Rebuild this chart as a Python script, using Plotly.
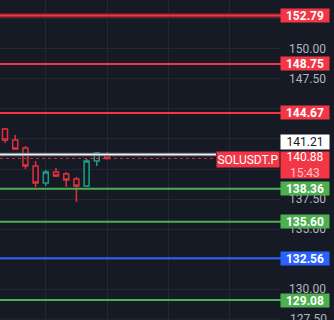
import plotly.graph_objects as go

# ---- data ----
idx = list(range(11))
opens = [143.33, 142.42, 141.75, 140.25, 138.83, 139.75, 139.58, 139.17, 138.58, 140.67, 141.21]
highs = [143.42, 142.83, 141.92, 140.67, 139.92, 140.08, 139.75, 139.33, 140.83, 141.42, 141.42]
lows = [142.17, 141.67, 140.00, 138.50, 138.58, 139.33, 138.50, 137.25, 138.50, 140.25, 140.80]
closes = [142.42, 141.67, 140.25, 138.83, 139.75, 139.42, 139.08, 138.58, 140.67, 141.33, 140.88]

level_values = [152.79, 148.75, 144.67, 138.36, 135.60, 132.56, 129.08]
level_colors = ["#f23645", "#f23645", "#f23645", "#4caf50", "#4caf50", "#2962ff", "#4caf50"]

tick_values = [130.0, 132.5, 135.0, 137.5, 140.0, 142.5, 145.0, 147.5, 150.0, 152.5]
tick_labels = ["130.00", "", "135.00", "137.50", "",
               "", "", "147.50", "150.00", ""]
edge_tick_value = 127.5
edge_tick_label = "127.50"

last_close = 140.88
ref_price = 141.21
symbol = "SOLUSDT.P"
countdown = "15:43"

BG = "#161a25"
GRID = "#242833"
W, H = 334, 320
XD = 280 / W

fig = go.Figure()
fig.add_trace(go.Candlestick(
    x=idx, open=opens, high=highs, low=lows, close=closes,
    increasing=dict(line=dict(color="#1e9e86", width=1.5), fillcolor=BG),
    decreasing=dict(line=dict(color="#e0303f", width=1.5), fillcolor=BG),
    whiskerwidth=0, showlegend=False, hoverinfo="skip",
))

shapes = []
for v, c in zip(level_values, level_colors):
    if v == level_values[0]:
        shapes.append(dict(type="line", xref="paper", yref="y", x0=0, x1=281 / W, y0=v, y1=v,
                           line=dict(color="#6e1a24", width=5), layer="above"))
    shapes.append(dict(type="line", xref="paper", yref="y", x0=0, x1=281 / W, y0=v, y1=v,
                       line=dict(color=c, width=2), layer="above"))
shapes.append(dict(type="line", xref="paper", yref="y", x0=0, x1=216 / W, y0=ref_price, y1=ref_price,
                   line=dict(color="#6b6e78", width=3.5), layer="above"))
shapes.append(dict(type="line", xref="paper", yref="y", x0=0, x1=216 / W, y0=ref_price, y1=ref_price,
                   line=dict(color="#f0f1f4", width=1.5), layer="above"))
shapes.append(dict(type="line", xref="paper", yref="y", x0=0, x1=216 / W, y0=last_close, y1=last_close,
                   line=dict(color="#c8303d", width=1, dash="dot"), layer="above"))
# grid line for the edge tick
shapes.append(dict(type="line", xref="paper", yref="y", x0=0, x1=XD, y0=edge_tick_value, y1=edge_tick_value,
                   line=dict(color=GRID, width=1), layer="below"))

annotations = []
FONT = "Roboto"
LX = 305 / W
annotations.append(dict(
    x=288 / W, xref="paper", xanchor="left", y=edge_tick_value, yref="y",
    text=edge_tick_label, showarrow=False,
    font=dict(family=FONT, size=12, color="#b2b5be"),
))
for v, c in zip(level_values, level_colors):
    annotations.append(dict(
        x=LX, xref="paper", xanchor="center", y=v, yref="y", text=f"{v:.2f}", showarrow=False,
        bgcolor=c, width=48, height=13, borderpad=0,
        font=dict(family=FONT, size=12, color="#ffffff", weight="bold"),
    ))
annotations.append(dict(
    x=LX, xref="paper", xanchor="center", y=ref_price, yref="y", yanchor="bottom", yshift=4,
    text=f"{ref_price:.2f}", showarrow=False, bgcolor="#ffffff", width=48, height=14, borderpad=0,
    font=dict(family=FONT, size=12, color="#131722"),
))
annotations.append(dict(
    x=LX, xref="paper", xanchor="center", y=last_close, yref="y", yanchor="top", yshift=7,
    text=f"{last_close:.2f}<br><span style='color:#ffc4ca'>{countdown}</span>", showarrow=False,
    bgcolor="#f23645", width=48, height=26, borderpad=0,
    font=dict(family=FONT, size=12, color="#ffffff"),
))
annotations.append(dict(
    x=247.5 / W, xref="paper", xanchor="center", y=last_close, yref="y", yshift=-1,
    text=symbol, showarrow=False, bgcolor="#f23645", width=62, height=15, borderpad=0,
    font=dict(family=FONT, size=12, color="#ffffff"),
))

fig.update_layout(
    width=W, height=H, margin=dict(l=0, r=0, t=0, b=0),
    paper_bgcolor=BG, plot_bgcolor=BG,
    shapes=shapes, annotations=annotations,
    xaxis=dict(domain=[0, XD], range=[-0.49, 26.96], tickvals=[4, 10, 16, 22],
               showticklabels=False, gridcolor=GRID, gridwidth=1, zeroline=False,
               rangeslider=dict(visible=False), showline=False, fixedrange=True),
    yaxis=dict(range=[127.42, 154.08], side="right", tickvals=tick_values, ticktext=tick_labels,
               gridcolor=GRID, gridwidth=1, zeroline=False, showline=False, ticks="",
               ticklabelstandoff=8,
               tickfont=dict(family=FONT, size=12, color="#b2b5be")),
    showlegend=False,
)

fig.write_html("out.html")
